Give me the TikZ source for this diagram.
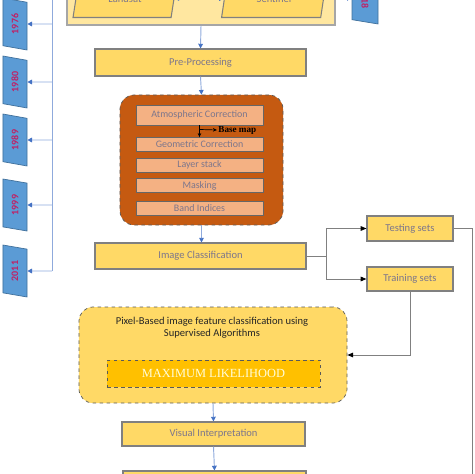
\documentclass[tikz,border=0pt]{standalone}
\usepackage{fontspec}
\setmainfont{Carlito}
\newfontfamily\serifrm{Liberation Serif}
\usepackage{tikz}
\usetikzlibrary{arrows.meta,positioning,shapes.geometric,calc}
\definecolor{boxyellow}{RGB}{255,217,102}
\definecolor{paleyellow}{RGB}{255,231,160}
\definecolor{boxgray}{RGB}{128,128,128}
\definecolor{txtgray}{RGB}{124,118,140}
\definecolor{rustorange}{RGB}{197,90,17}
\definecolor{peach}{RGB}{244,177,131}
\definecolor{goldml}{RGB}{255,192,0}
\definecolor{yearblue}{RGB}{91,155,213}
\definecolor{yearedge}{RGB}{65,113,156}
\definecolor{yeartxt}{RGB}{192,32,100}
\definecolor{linkblue}{RGB}{143,170,220}
\definecolor{headblue}{RGB}{68,114,196}
\tikzset{
  % yellow process box
  box/.style={
    draw=boxgray,
    line width=0.9pt,
    fill=boxyellow,
    inner sep=0pt,
    font=\fontsize{9}{10.8}\selectfont,
    text=txtgray
  },
  % data source parallelogram
  src/.style={box, trapezium, trapezium left angle=74, trapezium right angle=106,
    trapezium stretches=true},
  % year tags
  yearbox/.style={
    draw=yearedge, line width=0.6pt, fill=yearblue,
    trapezium, trapezium left angle=74, trapezium right angle=106,
    trapezium stretches=true,
    minimum width=1.56cm, minimum height=0.72cm, inner sep=0pt,
    font=\fontsize{8.5}{10}\selectfont\bfseries, text=yeartxt
  },
  % pre-processing steps
  prebox/.style={
    draw=boxgray!80!black, line width=0.6pt, fill=peach,
    minimum width=3.81cm, minimum height=0.42cm, inner sep=0pt,
    font=\fontsize{8.5}{10}\selectfont, text=txtgray
  },
  % dashed rounded frame
  dashbox/.style={draw=boxgray!70!black, dashed, line width=0.6pt, rounded corners=0.42cm},
  % arrows
  barr/.style={-{Triangle[length=4pt,width=4pt,color=headblue]}, draw=linkblue, line width=0.8pt},
  bdarr/.style={{Triangle[length=4pt,width=4pt,color=headblue]}-{Triangle[length=4pt,width=4pt,color=headblue]}, draw=linkblue, line width=0.8pt},
  garr/.style={-{Triangle[length=5pt,width=4pt,color=black]}, draw=boxgray, line width=0.8pt},
  karr/.style={-{Stealth[length=3.5pt,width=3pt]}, black, line width=0.6pt},
}

\begin{document}
\begin{tikzpicture}[x=0.03cm, y=-0.03cm]
    \useasboundingbox (0,0) rectangle (474,474);
    \clip (0,0) rectangle (474,474);

    % Data sources
    \node[box, fill=paleyellow, draw=boxgray!70, minimum width=8.04cm, minimum height=1.56cm] (srcs) at (201,-1) {};
    \node[src, minimum width=3.12cm, minimum height=1.14cm] (lan) at (125,-1.5) {Landsat};
    \node[src, minimum width=3.15cm, minimum height=1.14cm] (sen) at (274,-1.5) {Sentinel};
    \draw[bdarr] (lan.east) -- (sen.west);

    % Years
    \coordinate (vtop) at (52,-5);
    \foreach \yr/\yy in {1976/24, 1980/82, 1989/140, 1999/205, 2011/271} {
        \node[yearbox, rotate=90] (y\yr) at (15,\yy) {\yr};
        \coordinate (t\yr) at (52,\yy);
        \draw[barr] (t\yr) -- (y\yr.south);
    }
    \draw[linkblue, line width=0.8pt] (vtop) -- (t2011);
    \node[yearbox, rotate=-90, minimum height=0.78cm] (y2018) at (365,-2) {2018};
    \draw[barr] (srcs.east) -- (y2018.south);

    % Pre-processing
    \node[box, minimum width=6.33cm, minimum height=0.81cm] (pre) at (200.5,62.5) {Pre-Processing};
    \node[dashbox, fill=rustorange, minimum width=4.89cm, minimum height=3.9cm] (prep) at (201.5,160) {};
    \node[prebox, minimum height=0.6cm] (atm) at (199.5,115) {Atmospheric Correction};
    \node[prebox] (geo) at (199.5,144.5) {Geometric Correction};
    \node[prebox] (lay) at (199.5,165) {Layer stack};
    \node[prebox] (mask) at (199.5,185.5) {Masking};
    \node[prebox] (band) at (199.5,208.5) {Band Indices};
    \node[anchor=west, inner sep=1pt, font=\serifrm\fontsize{7.8}{9}\selectfont\bfseries] (bmap) at (217,130) {Base map};
    \draw[karr] (atm.south) -- (geo.north);
    \draw[karr] ($(atm.south)!0.35!(geo.north)$) -- (bmap.west);

    \draw[barr] (srcs.south) -- (pre.north);
    \draw[barr] (pre.south) -- (prep.north);

    % Classification
    \node[box, minimum width=6.33cm, minimum height=0.78cm] (imgc) at (200.5,256) {Image Classification};
    \draw[barr] (prep.south) -- (prep.south |- imgc.north);
    \node[box, minimum width=2.58cm, minimum height=0.75cm] (test) at (410,228.5) {Testing sets};
    \node[box, minimum width=2.58cm, minimum height=0.72cm] (train) at (410,279) {Training sets};
    \draw[garr] (imgc.east) -- ++(20,0) |- (test.west);
    \draw[garr] (imgc.east) -- ++(20,0) |- (train.west);

    % Supervised classification
    \node[dashbox, fill=boxyellow, minimum width=8.04cm, minimum height=2.88cm] (pix) at (213,355) {};
    \node[align=center, font=\fontsize{9}{10.5}\selectfont, text=black!85] (pixtxt) at (212,327.5)
        {Pixel-Based image feature classification using\\Supervised Algorithms};
    \node[dashbox, sharp corners, fill=goldml, minimum width=6.39cm, minimum height=0.81cm,
        font=\serifrm\fontsize{10.6}{12}\selectfont, text=white!85!yellow] (ml) at (213.5,373.5) {MAXIMUM LIKELIHOOD};
    \draw[garr] (train.south) |- (pix.east);

    % Output
    \node[box, minimum width=5.49cm, minimum height=0.72cm] (vis) at (213.5,434) {Visual Interpretation};
    \node[box, minimum width=5.49cm, minimum height=0.72cm] (last) at (214.5,483) {};
    \draw[barr] (pix.south) -- (vis.north);
    \draw[barr] (vis.south) -- (last.north);
    \draw[garr] (test.east) -- ++(19,0) |- (last.east);
\end{tikzpicture}
\end{document}
